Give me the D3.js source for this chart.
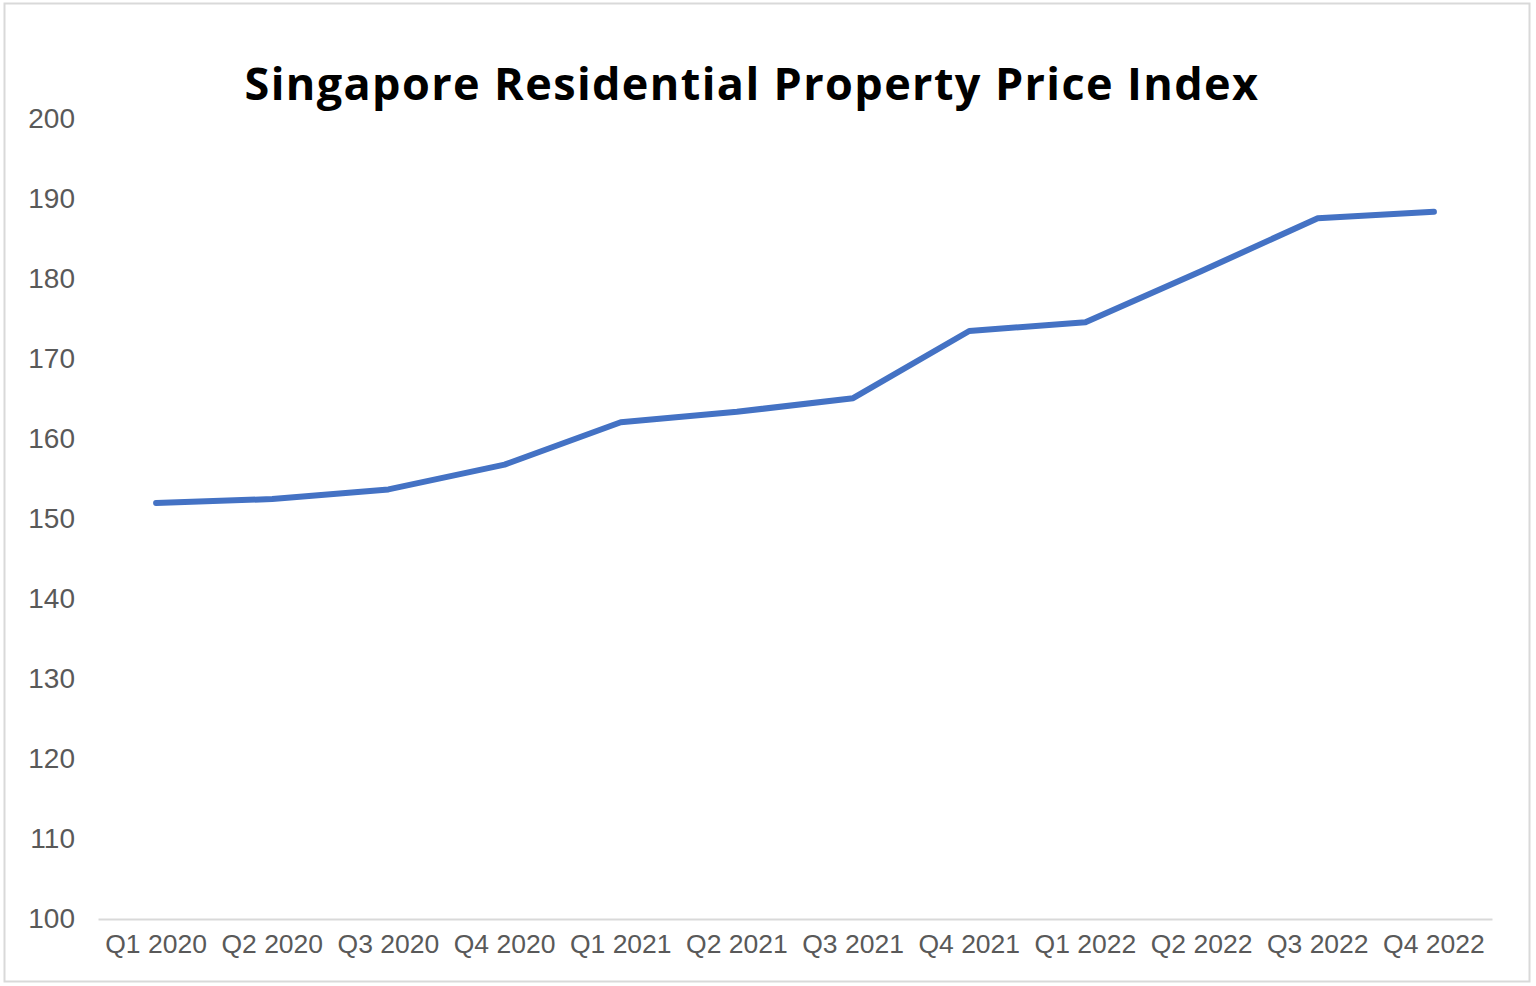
<!DOCTYPE html>
<html>
<head>
<meta charset="utf-8">
<script src="https://cdn.jsdelivr.net/npm/d3@7"></script>
<style>
  body { margin: 0; background: #fff; }
  svg { display: block; }
  .tick text { font-family: "Liberation Sans", Arial, sans-serif; fill: #595959; }
</style>
</head>
<body>
<div id="chart"></div>
<script>
const quarters = ["Q1 2020", "Q2 2020", "Q3 2020", "Q4 2020", "Q1 2021", "Q2 2021",
  "Q3 2021", "Q4 2021", "Q1 2022", "Q2 2022", "Q3 2022", "Q4 2022"];
const priceIndex = [152.0, 152.5, 153.7, 156.8, 162.1, 163.4, 165.1, 173.5, 174.6, 181.0, 187.6, 188.4];
const yTicks = [100, 110, 120, 130, 140, 150, 160, 170, 180, 190, 200];

(function ppi_chart() {
  const width = 1536,
    height = 986,
    margin = {top: 119, right: 44, bottom: 67, left: 98};

  const svg = d3.select("#chart")
    .append("svg")
    .attr("width", width)
    .attr("height", height);

  // outer frame
  svg.append("rect")
    .attr("x", 4.5)
    .attr("y", 3.5)
    .attr("width", 1525)
    .attr("height", 978)
    .attr("fill", "#fff")
    .attr("stroke", "#d9d9d9")
    .attr("stroke-width", 2);

  let x = d3.scaleBand(quarters, [margin.left, width - margin.right]);
  let y = d3.scaleLinear([100, 200], [height - margin.bottom, margin.top]);

  svg.append("g")
    .attr("transform", `translate(0,${height - margin.bottom})`)
    .call(d3.axisBottom(x).tickSize(0).tickPadding(15))
    .call(g => g.select(".domain").attr("stroke", "#d9d9d9").attr("stroke-width", 2))
    .call(g => g.selectAll(".tick text").attr("font-size", 26.5));

  svg.append("g")
    .attr("transform", `translate(${margin.left},0)`)
    .call(d3.axisLeft(y).tickValues(yTicks).tickSize(0).tickPadding(23))
    .call(g => g.select(".domain").remove())
    .call(g => g.selectAll(".tick text").attr("font-size", 28).attr("dy", "0.3em"));

  const line = d3.line()
    .x((d, i) => x(quarters[i]) + x.bandwidth() / 2)
    .y(d => y(d));

  svg.append("path")
    .datum(priceIndex)
    .attr("fill", "none")
    .attr("stroke", "#4472c4")
    .attr("stroke-width", 6)
    .attr("stroke-linejoin", "round")
    .attr("stroke-linecap", "round")
    .attr("d", line);

  const title = svg.append("text")
    .attr("x", 752)
    .attr("y", 100)
    .attr("text-anchor", "middle")
    .attr("font-family", "'Open Sans', sans-serif")
    .attr("font-weight", 700)
    .attr("font-size", 45)
    .attr("fill", "#000")
    .text("Singapore Residential Property Price Index");

  // stretch letter spacing so the title spans the same width as the original
  const target = 1015;
  const n = title.text().length;
  const w = title.node().getComputedTextLength();
  title.attr("letter-spacing", (target - w) / n);
})();
</script>
</body>
</html>
